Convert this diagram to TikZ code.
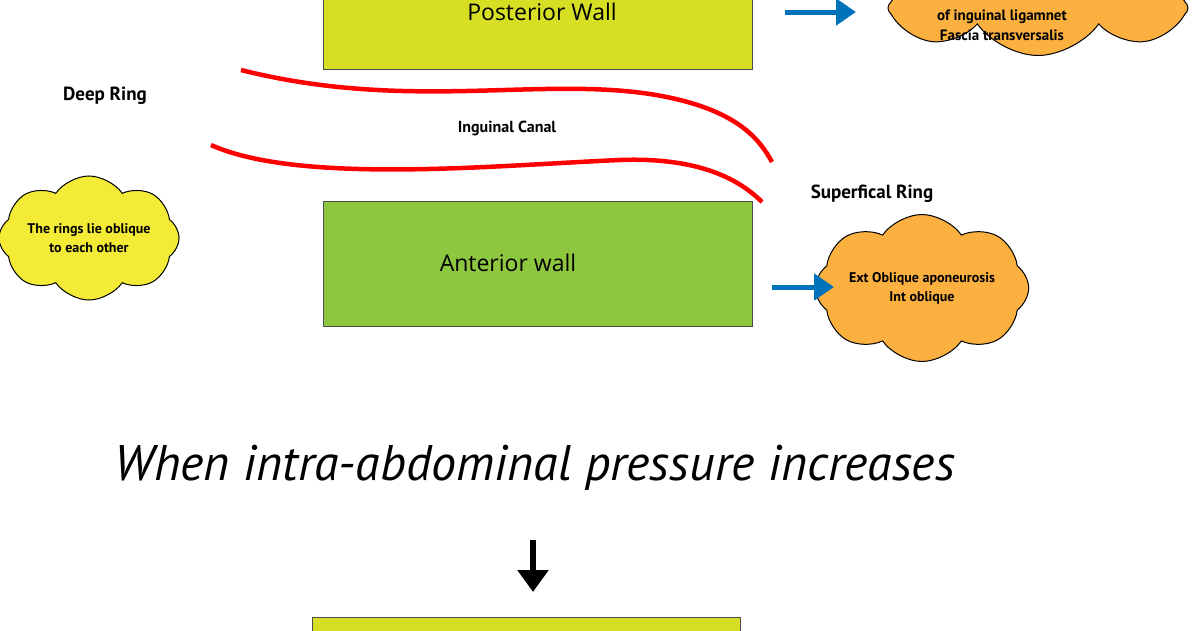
\documentclass[tikz,border=0pt]{standalone}
\usepackage{fontspec}
\setmainfont{PT Sans}
\newfontfamily\wallf{Open Sans}
\usetikzlibrary{shapes.symbols,arrows.meta}
\definecolor{lime}{HTML}{D6DF23}
\definecolor{grn}{HTML}{8DC63F}
\definecolor{org}{HTML}{FBB040}
\definecolor{ylw}{HTML}{F4EB37}
\definecolor{blu}{HTML}{0072BC}
\begin{document}
\begin{tikzpicture}[x=1pt,y=-1pt,
 wall/.style={draw=black!70,line width=0.8pt},
 cld/.style={cloud,cloud puffs=8,cloud puff arc=110,draw=black,line width=1pt,aspect=1.8,align=center,font=\bfseries\fontsize{14}{19}\selectfont,inner sep=0pt},
 lbl/.style={font=\bfseries\fontsize{19}{22}\selectfont},
 canal/.style={draw=red,line width=4.5pt},
 barrow/.style={draw=blu,line width=5pt,-{Triangle[length=20pt,width=26pt]}}]
\useasboundingbox (0,0) rectangle (1200,630);
\node[wall,fill=lime,minimum width=429pt,minimum height=100pt,anchor=south west] (pw) at (323,70) {};
\node[font=\wallf\fontsize{23}{27}\selectfont] (pwt) at (542,12) {Posterior Wall};
\node[wall,fill=grn,minimum width=429pt,minimum height=125pt,anchor=north west] (aw) at (323,201) {};
\node[font=\wallf\fontsize{23}{27}\selectfont] (awt) at (508,263) {Anterior wall};
\node[wall,fill=lime,minimum width=428pt,minimum height=40pt,anchor=north west] (bw) at (312,617) {};
\node[cld,fill=org,minimum width=300pt,minimum height=95pt] (c1) at (1038,8) {};
\node[font=\bfseries\fontsize{15}{20}\selectfont,align=center] (c1t) at (1002,25) {of inguinal ligamnet\\Fascia transversalis};
\node[cld,fill=ylw,minimum width=162pt,minimum height=98pt] (c2) at (89,238) {The rings lie oblique\\to each other};
\node[cld,fill=org,minimum width=155pt,minimum height=78pt] (c3) at (922,288) {Ext Oblique aponeurosis\\Int oblique};
\coordinate (a1s) at (785,12); \coordinate (a1e) at (856,12);
\draw[barrow] (a1s) -- (a1e);
\coordinate (a2s) at (772,287); \coordinate (a2e) at (834,287);
\draw[barrow] (a2s) -- (a2e);
\coordinate (u1) at (241,70); \coordinate (u2) at (772,162);
\draw[canal] (u1) .. controls (420,115) and (560,70) .. (680,100) .. controls (740,115) and (760,140) .. (u2);
\coordinate (l1) at (211,145); \coordinate (l2) at (762,202);
\draw[canal] (l1) .. controls (300,185) and (500,165) .. (620,160) .. controls (700,157) and (740,180) .. (l2);
\node[lbl] (dr) at (105,96) {Deep Ring};
\node[font=\bfseries\fontsize{16}{18}\selectfont] (ic) at (507,128) {Inguinal Canal};
\node[lbl] (sr) at (872,194) {Superfical Ring};
\node[font=\rmfamily\itshape\fontsize{50}{56}\selectfont] (cap) at (535,468) {When intra-abdominal pressure increases};
\coordinate (k1) at (533,540); \coordinate (k2) at (533,592);
\draw[line width=6pt,-{Triangle[length=22pt,width=30pt]}] (k1) -- (k2);
\end{tikzpicture}
\end{document}
